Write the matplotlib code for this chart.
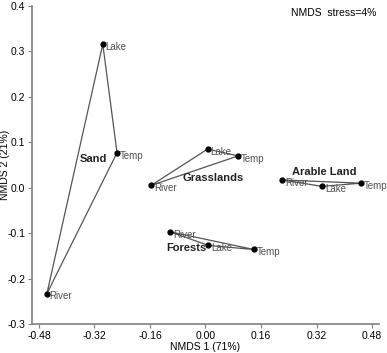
import matplotlib
matplotlib.use("Agg")
import matplotlib.pyplot as plt

plt.rcParams["font.family"] = ["Liberation Sans", "DejaVu Sans"]

groups = ["Sand", "Grasslands", "Forests", "Arable Land"]
sites = ["River", "Lake", "Temp"]
nmds1 = {
    "Sand": [-0.457, -0.296, -0.255],
    "Grasslands": [-0.157, 0.006, 0.094],
    "Forests": [-0.102, 0.008, 0.139],
    "Arable Land": [0.221, 0.336, 0.449],
}
nmds2 = {
    "Sand": [-0.233, 0.316, 0.077],
    "Grasslands": [0.005, 0.085, 0.070],
    "Forests": [-0.097, -0.127, -0.136],
    "Arable Land": [0.017, 0.003, 0.010],
}
group_label_pos = {
    "Sand": (-0.324, 0.063),
    "Grasslands": (0.021, 0.022),
    "Forests": (-0.056, -0.132),
    "Arable Land": (0.343, 0.035),
}
xticks = [-0.48, -0.32, -0.16, 0.00, 0.16, 0.32, 0.48]
yticks = [-0.3, -0.2, -0.1, 0.0, 0.1, 0.2, 0.3, 0.4]

fig = plt.figure(figsize=(3.87, 3.53), dpi=100)
ax = fig.add_axes([32 / 387, 29 / 353, 347 / 387, 318 / 353])

for g in groups:
    xs, ys = nmds1[g], nmds2[g]
    ax.plot(xs + xs[:1], ys + ys[:1], color="#555555", lw=0.9, zorder=2)
    ax.plot(xs, ys, "o", color="black", ms=3.5, zorder=3)
    for s, x, y in zip(sites, xs, ys):
        ax.annotate(s, (x, y), xytext=(2, -2), textcoords="offset points",
                    fontsize=7, color="#505050", ha="left", va="center")
    lx, ly = group_label_pos[g]
    ax.text(lx, ly, g, fontsize=8, fontweight="bold", color="#222222",
            ha="center", va="center")

ax.text(0.491, 0.384, "NMDS  stress=4%", fontsize=7.5, ha="right", va="center")

ax.set_xlim(-0.5, 0.5)
ax.set_ylim(-0.3, 0.4)
ax.set_xticks(xticks)
ax.set_xticklabels([f"{t:.2f}" for t in xticks])
ax.set_yticks(yticks)
ax.set_yticklabels([f"{t:.1f}" for t in yticks])
ax.tick_params(labelsize=7.5, length=3, width=0.8, color="#808080", pad=2)
for side in ["top", "right"]:
    ax.spines[side].set_visible(False)
for side in ["left", "bottom"]:
    ax.spines[side].set_color("#808080")
    ax.spines[side].set_linewidth(1.2)
ax.set_xlabel("NMDS 1 (71%)", fontsize=7.5, labelpad=1)
ax.set_ylabel("NMDS 2 (21%)", fontsize=7.5, va="center")
ax.yaxis.set_label_coords(-27 / 347, 0.5)

fig.savefig("out.png", dpi=100)
